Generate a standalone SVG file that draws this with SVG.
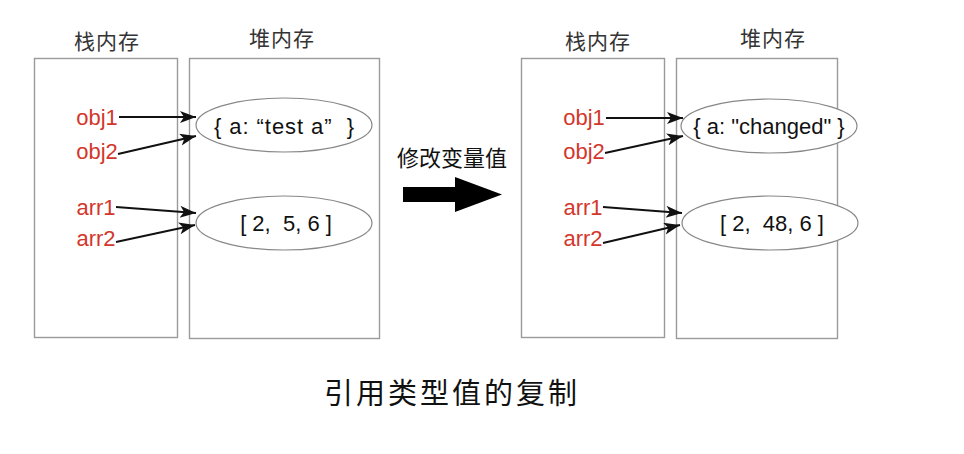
<svg xmlns="http://www.w3.org/2000/svg" width="964" height="454" viewBox="0 0 964 454">
<defs>
<style>
.box{fill:#fff;stroke:#9a9a9a;stroke-width:1.4}
.ell{fill:#fff;stroke:#888;stroke-width:1.2}
.hdr{font-family:"Noto Sans CJK SC",sans-serif;font-size:21px;fill:#333;text-anchor:middle;letter-spacing:1px}
.var{font-family:"Liberation Sans",Arial,sans-serif;font-size:22px;fill:#d3372c;text-anchor:middle}
.val{font-family:"Liberation Sans",Arial,sans-serif;font-size:22px;fill:#111;text-anchor:middle}
.conn{stroke:#111;stroke-width:1.8;fill:none}
.cjk{font-family:"Noto Sans CJK SC",sans-serif;fill:#111;text-anchor:middle}
</style>
<marker id="ah" markerUnits="userSpaceOnUse" markerWidth="18" markerHeight="14" refX="16" refY="6" orient="auto">
<path d="M0,0 L16,6 L0,12 L4,6 Z" fill="#111"/>
</marker>
</defs>
<rect width="964" height="454" fill="#fff"/>

<g id="left-stack">
<rect class="box" x="34.5" y="58.5" width="143" height="279"/>
<text class="hdr" x="107" y="49">栈内存</text>
</g>
<g id="left-heap">
<rect class="box" x="189.5" y="58.5" width="190" height="280"/>
<text class="hdr" x="282" y="46">堆内存</text>
</g>
<g id="left-obj">
<ellipse class="ell" cx="284" cy="125" rx="88" ry="27"/>
<text class="val" x="284" y="134" xml:space="preserve" textLength="140" lengthAdjust="spacing">{ a: “test a”  }</text>
</g>
<g id="left-arr">
<ellipse class="ell" cx="284" cy="223" rx="88" ry="27"/>
<text class="val" x="286" y="231" xml:space="preserve">[ 2,  5, 6 ]</text>
</g>
<g id="left-vars">
<text class="var" x="97" y="125">obj1</text>
<text class="var" x="97" y="159">obj2</text>
<text class="var" x="96" y="215">arr1</text>
<text class="var" x="96" y="246">arr2</text>
</g>

<g id="right-stack">
<rect class="box" x="521.5" y="58.5" width="143" height="279"/>
<text class="hdr" x="598" y="49">栈内存</text>
</g>
<g id="right-heap">
<rect class="box" x="676.5" y="58.5" width="161" height="280"/>
<text class="hdr" x="773" y="46">堆内存</text>
</g>
<g id="right-obj">
<ellipse class="ell" cx="769" cy="126" rx="88" ry="27"/>
<text class="val" x="769" y="134">{ a: "changed" }</text>
</g>
<g id="right-arr">
<ellipse class="ell" cx="770" cy="223" rx="88" ry="27"/>
<text class="val" x="772" y="231" xml:space="preserve">[ 2,  48, 6 ]</text>
</g>
<g id="right-vars">
<text class="var" x="584" y="125">obj1</text>
<text class="var" x="584" y="159">obj2</text>
<text class="var" x="583" y="215">arr1</text>
<text class="var" x="583" y="246">arr2</text>
</g>

<g id="connectors">
<line class="conn" x1="119" y1="117" x2="196" y2="117" marker-end="url(#ah)"/>
<line class="conn" x1="118" y1="154" x2="196" y2="136" marker-end="url(#ah)"/>
<line class="conn" x1="116" y1="207" x2="196" y2="213" marker-end="url(#ah)"/>
<line class="conn" x1="116" y1="242" x2="195" y2="225" marker-end="url(#ah)"/>
<line class="conn" x1="606" y1="118" x2="683" y2="118" marker-end="url(#ah)"/>
<line class="conn" x1="605" y1="153" x2="683" y2="136" marker-end="url(#ah)"/>
<line class="conn" x1="603" y1="207" x2="682" y2="213" marker-end="url(#ah)"/>
<line class="conn" x1="603" y1="243" x2="680" y2="225" marker-end="url(#ah)"/>
</g>

<g id="change-arrow">
<text class="cjk" x="452" y="166" font-size="22">修改变量值</text>
<polygon points="403,187 455,187 455,177 502,194.5 455,212 455,202 403,202" fill="#000"/>
</g>

<g id="title">
<text class="cjk" x="452" y="404" font-size="29" letter-spacing="3" fill="#222">引用类型值的复制</text>
</g>
</svg>
